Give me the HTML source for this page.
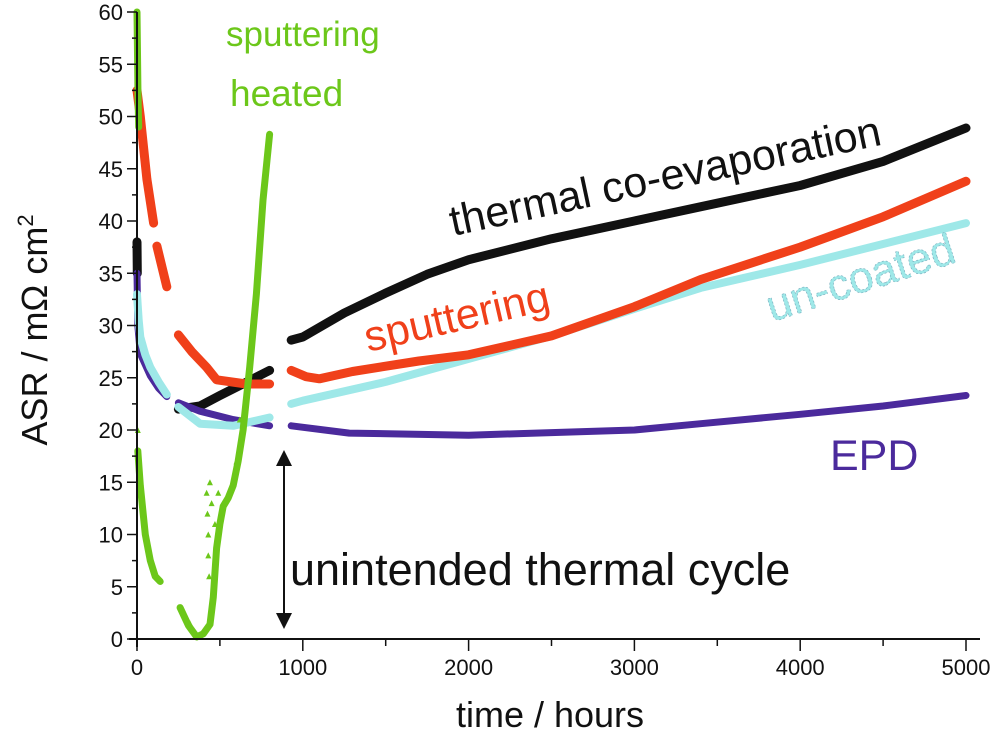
<!DOCTYPE html>
<html><head><meta charset="utf-8"><style>
html,body{margin:0;padding:0;background:#fff;}
svg{display:block;font-family:"Liberation Sans",sans-serif;}
</style></head><body>
<svg id="chart" width="1000" height="747" viewBox="0 0 1000 747">
<g id="plot"></g>
<g id="axes"></g>
<text x="0" y="0" transform="translate(47,330) rotate(-90)" text-anchor="middle" font-size="36" fill="#111">ASR / mΩ cm<tspan dy="-14" font-size="22">2</tspan></text>
<text x="550" y="727" text-anchor="middle" font-size="36" fill="#111">time / hours</text>
<text x="226" y="46" font-size="35" fill="#6cc71a">sputtering</text>
<text x="230" y="106" font-size="37" fill="#6cc71a">heated</text>
<text x="0" y="0" transform="translate(453,236) rotate(-12)" font-size="43" fill="#111">thermal co-evaporation</text>
<text x="0" y="0" transform="translate(368,352) rotate(-13)" font-size="43" fill="#f0401a">sputtering</text>
<text x="0" y="0" transform="translate(772,322) rotate(-18)" font-size="44" fill="#9ee8e8" stroke="#7ab" stroke-width="0.6" stroke-dasharray="2 2">un-coated</text>
<text x="830" y="470" font-size="43" fill="#4b2a9c">EPD</text>
<text x="290" y="585" font-size="45" fill="#111">unintended thermal cycle</text>
<g>
<line x1="284" y1="465" x2="284" y2="615" stroke="#111" stroke-width="2"/>
<polygon points="276,466 292,466 284,450" fill="#111"/>
<polygon points="276,613 292,613 284,629" fill="#111"/>
</g>
</svg>
<script>
const xTicks=[0,1000,2000,3000,4000,5000];
const yTicks=[0,5,10,15,20,25,30,35,40,45,50,55,60];
// segments of [hours, ASR]
const blackT=[[0,1,2],[250,380,500,650,800],[930,1000,1250,1500,1750,2000,2500,3000,3500,4000,4500,5000]];
const blackV=[[38,36,35],[22,22.3,23.3,24.5,25.7],[28.6,28.9,31.2,33.1,34.9,36.3,38.3,40,41.7,43.4,45.7,48.9]];
const redT=[[0,20,60,100],[120,180],[250,330,420,480,660,800],[930,1020,1100,1300,1700,2000,2500,3000,3400,4000,4500,5000]];
const redV=[[52.5,50,44,39.8],[37.6,33.7],[29.1,27.5,26,24.8,24.4,24.4],[25.7,25.1,24.9,25.6,26.6,27.2,29,31.8,34.4,37.5,40.4,43.8]];
const cyanT=[[0,10,20,50,80,130,180],[250,380,580,800],[930,1000,1500,2000,2500,3000,3400,4000,4500,5000]];
const cyanV=[[33,30.5,28.9,27.2,26,24.6,23.4],[22.2,20.6,20.4,21.2],[22.5,22.8,24.6,26.8,29,31.6,33.6,35.8,37.8,39.8]];
const epdT=[[0,5,20,80,130,180],[250,380,580,800],[930,1280,2000,3000,3400,4000,4500,5000]];
const epdV=[[35,30,27.3,25.2,24,23.2],[22.6,21.8,21,20.4],[20.4,19.7,19.5,20,20.6,21.5,22.3,23.3]];
const greenT=[[0,3,6,10],[5,20,50,80,110,140],[260,310,360,400,440,460,480,500,520,550,580,610,640,680,720,760,800]];
const greenV=[[60,56,52,49],[18,14.7,10,7.5,6,5.5],[3,1.3,0.2,0.5,1.4,4,8.7,11,12.7,13.5,14.7,17,20,26,33,42,48.3]];
const greenPtsT=[5,10,15,420,425,430,430,435,440,450,470,490,300,320,620,600];
const greenPtsV=[20,17,16,14,12,10,8,6,15,13,11,14,2,1.5,21,17];

const NS='http://www.w3.org/2000/svg';
const X0=137,X1=966,Y0=639,Y1=12;
function sx(t){return X0+(t/5000)*(X1-X0);}
function sy(v){return Y0-(v/60)*(Y0-Y1);}
const plot=document.getElementById('plot'),axes=document.getElementById('axes');
function mk(tag,attrs,parent){const e=document.createElementNS(NS,tag);for(const k in attrs)e.setAttribute(k,attrs[k]);parent.appendChild(e);return e;}

function series(T,V,color,name,w){
  const g=mk('g',{},plot);
  
  
  T.forEach((seg,i)=>{
    const pts=seg.map((t,j)=>sx(t).toFixed(1)+','+sy(V[i][j]).toFixed(1)).join(' ');
    const p=mk('polyline',{points:pts,fill:'none',stroke:color,'stroke-width':w,'stroke-linejoin':'round','stroke-linecap':'round'},g);
    
    
  });
}
series(blackT,blackV,'#111','series-thermal-co-evaporation',9);
series(epdT,epdV,'#4b2a9c',"series-epd",7);
series(cyanT,cyanV,'#9ee8e8','series-un-coated',8);
series(redT,redV,'#f0401a','series-sputtering',9);
series(greenT,greenV,'#6cc71a','series-sputtering-heated',7);
greenPtsT.forEach((t,i)=>{
  const x=sx(t),y=sy(greenPtsV[i]);
  const p=mk('polygon',{points:`${x-3},${y+3} ${x+3},${y+3} ${x},${y-3}`,fill:'#6cc71a'},plot);
  
  
});

// axes
const ya=mk('line',{x1:X0,y1:Y1,x2:X0,y2:Y0+8,stroke:'#111','stroke-width':2},axes);


const xa=mk('line',{x1:X0-8,y1:Y0,x2:980,y2:Y0,stroke:'#111','stroke-width':2},axes);


yTicks.forEach(v=>{
  const y=sy(v);
  mk('line',{x1:X0-10,y1:y,x2:X0,y2:y,stroke:'#111','stroke-width':1.5},axes);
  if(v<60){mk('line',{x1:X0-5,y1:sy(v+2.5),x2:X0,y2:sy(v+2.5),stroke:'#111','stroke-width':1.5},axes);}
  const t=mk('text',{x:X0-14,y:y+8,'text-anchor':'end','font-size':22,fill:'#111'},axes);
  t.textContent=v;
  
  
});
xTicks.forEach(v=>{
  const x=sx(v);
  mk('line',{x1:x,y1:Y0,x2:x,y2:Y0+12,stroke:'#111','stroke-width':1.5},axes);
  if(v<5000){mk('line',{x1:sx(v+500),y1:Y0,x2:sx(v+500),y2:Y0+7,stroke:'#111','stroke-width':1.5},axes);}
  const t=mk('text',{x:x,y:Y0+36,'text-anchor':'middle','font-size':22,fill:'#111'},axes);
  t.textContent=v;
  
  
});
</script>
</body></html>
